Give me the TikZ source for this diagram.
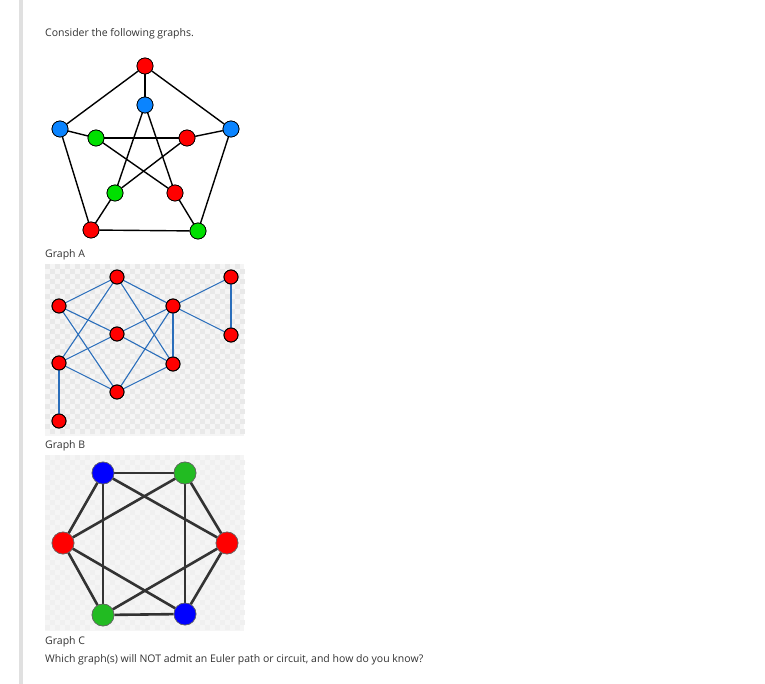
\documentclass[tikz,border=0pt]{standalone}
\usepackage{fontspec}
\setmainfont{Open Sans}
\definecolor{tx}{HTML}{333333}
\definecolor{pr}{HTML}{FF0000}
\definecolor{pb}{HTML}{0A84FF}
\definecolor{pg}{HTML}{00E000}
\definecolor{bb}{HTML}{2A6EBB}
\definecolor{cb}{HTML}{0000FF}
\definecolor{cg}{HTML}{22BB22}
\definecolor{chk}{HTML}{E9E9E9}
\begin{document}
\begin{tikzpicture}[x=1pt,y=-1pt,
  lbl/.style={anchor=west,inner sep=0pt,font=\fontsize{10.5}{12}\selectfont,text=tx},
  va/.style={circle,draw=black,line width=0.7pt,minimum size=16pt,inner sep=0pt},
  vb/.style={circle,draw=black,line width=0.9pt,minimum size=14pt,inner sep=0pt,fill=pr},
  vc/.style={circle,draw=black!60,line width=0.6pt,minimum size=22pt,inner sep=0pt},
  ea/.style={line width=1.4pt,black},
  eb/.style={line width=1.1pt,bb},
  ec/.style={line width=2.6pt,black!80}]
\useasboundingbox (0,0) rectangle (765,684);
\fill[white] (0,0) rectangle (765,684);
\fill[black!12] (19,0) rectangle (23,684);
\node[lbl] (t1) at (45,34) {Consider the following graphs.};
% Graph A
\node[va,fill=pr] (o1) at (145,66) {};
\node[va,fill=pb] (o2) at (60,129) {};
\node[va,fill=pb] (o5) at (231,129) {};
\node[va,fill=pr] (o3) at (91,230) {};
\node[va,fill=pg] (o4) at (198,231) {};
\node[va,fill=pb] (i1) at (145,105) {};
\node[va,fill=pg] (i2) at (96,138) {};
\node[va,fill=pr] (i5) at (187,138) {};
\node[va,fill=pg] (i3) at (115,193) {};
\node[va,fill=pr] (i4) at (175,193) {};
\begin{scope}[on background layer/.style={}]
\end{scope}
\node[lbl] (la) at (45,255) {Graph A};
% Graph B background
\fill[black!4] (45,264) rectangle (244,436);
\foreach \i in {0,...,39}{\foreach \j in {0,...,33}{
  \pgfmathtruncatemacro{\p}{mod(\i+\j,2)}
  \ifnum\p=0 \fill[chk] (45+5*\i,264+5*\j) rectangle +(5,5);\fi}}
\fill[black!4] (45,455) rectangle (244,631);
\foreach \i in {0,...,39}{\foreach \j in {0,...,34}{
  \pgfmathtruncatemacro{\p}{mod(\i+\j,2)}
  \ifnum\p=0 \fill[chk!70!white] (45+5*\i,455+5*\j) rectangle +(5,5);\fi}}
\node[vb] (a) at (117,277) {};
\node[vb] (b) at (59,306) {};
\node[vb] (c) at (117,334) {};
\node[vb] (d) at (59,363) {};
\node[vb] (e) at (117,392) {};
\node[vb] (f) at (173,306) {};
\node[vb] (g) at (173,364) {};
\node[vb] (h) at (231,277) {};
\node[vb] (i) at (231,335) {};
\node[vb] (j) at (59,421) {};
\node[lbl] (lb) at (45,446) {Graph B};
\node[vc,fill=cb] (c1) at (103,473) {};
\node[vc,fill=cg] (c2) at (185,473) {};
\node[vc,fill=pr] (c3) at (227,543) {};
\node[vc,fill=cb] (c4) at (185,614) {};
\node[vc,fill=cg] (c5) at (103,615) {};
\node[vc,fill=pr] (c6) at (63,543) {};
\node[lbl] (lc) at (45,642) {Graph C};
\node[lbl] (q) at (45,660) {Which graph(s) will NOT admit an Euler path or circuit, and how do you know?};
% edges behind nodes: redraw nodes after
\begin{scope}
\foreach \u/\v in {o1/o2,o2/o3,o3/o4,o4/o5,o5/o1,o1/i1,o2/i2,o3/i3,o4/i4,o5/i5,i1/i3,i3/i5,i5/i2,i2/i4,i4/i1}
  \draw[ea] (\u) -- (\v);
\foreach \u/\v in {a/b,a/d,a/f,a/g,b/c,b/e,c/f,c/g,c/d,d/e,d/j,e/f,e/g,f/g,f/h,f/i,h/i}
  \draw[eb] (\u) -- (\v);
\foreach \u/\v in {c1/c2,c2/c3,c3/c4,c4/c5,c5/c6,c6/c1,c1/c5,c2/c4,c1/c3,c2/c6,c6/c4,c3/c5}
  \draw[ec] (\u) -- (\v);
\end{scope}
% redraw nodes on top
\node[va,fill=pr] at (o1) {};\node[va,fill=pb] at (o2) {};\node[va,fill=pb] at (o5) {};
\node[va,fill=pr] at (o3) {};\node[va,fill=pg] at (o4) {};\node[va,fill=pb] at (i1) {};
\node[va,fill=pg] at (i2) {};\node[va,fill=pr] at (i5) {};\node[va,fill=pg] at (i3) {};
\node[va,fill=pr] at (i4) {};
\foreach \n in {a,b,c,d,e,f,g,h,i,j} \node[vb] at (\n) {};
\node[vc,fill=cb] at (c1) {};\node[vc,fill=cg] at (c2) {};\node[vc,fill=pr] at (c3) {};
\node[vc,fill=cb] at (c4) {};\node[vc,fill=cg] at (c5) {};\node[vc,fill=pr] at (c6) {};
\end{tikzpicture}
\end{document}
